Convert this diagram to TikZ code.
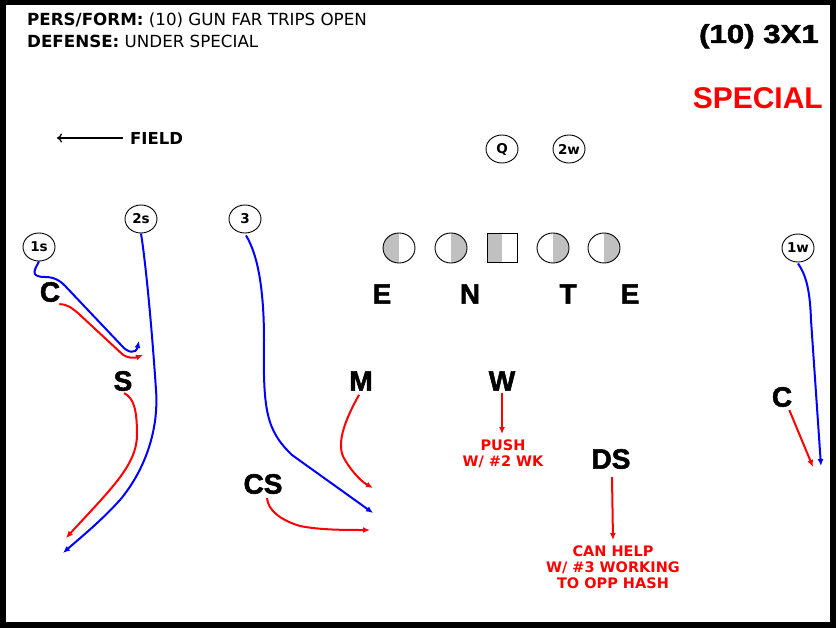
\documentclass[tikz,border=0pt]{standalone}
\usepackage{fontspec}
\setmainfont{DejaVu Sans}
\newfontfamily\arialf{Liberation Sans}
\newfontfamily\heavy{Liberation Sans Bold}[FakeBold=1.8]
\usetikzlibrary{shapes.geometric,arrows.meta}
\definecolor{olgray}{RGB}{192,192,192}
\definecolor{rtblue}{RGB}{0,0,255}
\definecolor{rtred}{RGB}{255,0,0}
\tikzset{
  x=1pt,y=-1pt,
  player/.style={ellipse,draw,line width=0.9pt,minimum width=32pt,minimum height=28pt,inner sep=0pt,font=\fontsize{13.5}{13.5}\selectfont\bfseries},
  olbase/.style={ellipse,draw,line width=0.9pt,minimum width=32pt,minimum height=30pt,inner sep=0pt},
  grayleft/.style={path picture={\fill[olgray] (path picture bounding box.south west) rectangle (path picture bounding box.north);}},
  grayright/.style={path picture={\fill[olgray] (path picture bounding box.south) rectangle (path picture bounding box.north east);}},
  defl/.style={inner sep=0pt,font=\heavy\fontsize{28}{28}\selectfont},
  redtxt/.style={text=rtred,align=center,inner sep=0pt,font=\fontsize{14.5}{16}\selectfont\bfseries},
  broute/.style={draw=rtblue,line width=2pt,-{Latex[length=7pt,width=6pt]}},
  rroute/.style={draw=rtred,line width=2pt,-{Latex[length=7pt,width=6pt]}},
}
\begin{document}
\begin{tikzpicture}
\useasboundingbox (0,0) rectangle (840,628);
\fill[white] (0,0) rectangle (840,628);
\draw[line width=5.5pt] (2.75,2.75) rectangle (833,625);
% titles
\node[anchor=base west,inner sep=0pt,font=\fontsize{16.7}{16.7}\selectfont] (t1) at (27,26) {\textbf{PERS/FORM:} (10) GUN FAR TRIPS OPEN};
\node[anchor=base west,inner sep=0pt,font=\fontsize{16.7}{16.7}\selectfont] (t2) at (27,48) {\textbf{DEFENSE:} UNDER SPECIAL};
\node[anchor=base east,inner sep=0pt,font=\heavy\fontsize{26}{26}\selectfont] (t3) at (819,43) {\scalebox{1.2}[1]{(10) 3X1}};
\node[anchor=base east,inner sep=0pt,text=rtred,font=\arialf\bfseries\fontsize{30}{30}\selectfont] (t4) at (823,109) {SPECIAL};
% field arrow
\node[anchor=base west,inner sep=0pt,font=\fontsize{16.5}{16.5}\selectfont\bfseries] (field) at (130,145) {FIELD};
\coordinate (fieldtip) at (57,138);
\draw[line width=1.3pt,-{To[length=5pt,width=9pt]}] (field.west |- fieldtip) ++(-7,0) -- (fieldtip);
% offense
\node[player] (s1) at (39,247) {1s};
\node[player] (s2) at (141,219) {2s};
\node[player] (r3) at (245,219) {3};
\node[player] (q) at (502,149) {Q};
\node[player] (w2) at (569,149) {2w};
\node[player] (w1) at (798,248) {1w};
\node[olbase,grayleft] (o1) at (399,248) {};
\node[olbase,grayright] (o2) at (451,248) {};
\node[rectangle,draw,line width=0.9pt,minimum width=30pt,minimum height=29pt,inner sep=0pt,grayleft] (oc) at (502,248) {};
\node[olbase,grayright] (o4) at (553,248) {};
\node[olbase,grayright] (o5) at (604,248) {};
% defense
\node[defl] (de1) at (382,294) {E};
\node[defl] (dn) at (470,294) {N};
\node[defl] (dt) at (568,294) {T};
\node[defl] (de2) at (630,294) {E};
\node[defl] (cl) at (50,292) {C};
\node[defl] (ss) at (123,381) {S};
\node[defl] (mm) at (361,381) {M};
\node[defl] (ww) at (502,381) {W};
\node[defl] (cs) at (263,484) {CS};
\node[defl] (ds) at (611,459) {DS};
\node[defl] (cr) at (782,397) {C};
\node[redtxt,anchor=north] (wtxt) at (503,440) {PUSH\\W/ \#2 WK};
\node[redtxt,anchor=north] (dstxt) at (613,546) {CAN HELP\\W/ \#3 WORKING\\TO OPP HASH};
% end points
\coordinate (e1s) at (139,341);
\coordinate (ecl) at (143,355);
\coordinate (e2s) at (63,553);
\coordinate (ess) at (66,538);
\coordinate (e3) at (373,513);
\coordinate (em) at (373,488);
\coordinate (ecs) at (370,530);
\coordinate (e1w) at (821,466);
\coordinate (ecr) at (813,467);
% routes
\draw[broute] (s1.south) .. controls (36,268) and (28,277) .. (45,277) .. controls (55,277) and (61,281) .. (68,289) -- (122,346) .. controls (128,353) and (136,354) .. (e1s);
\draw[rroute] (cl.south east) ++(-1,2) .. controls (66,304) and (71,307) .. (79,314) -- (121,353) .. controls (127,359) and (135,358) .. (ecl);
\draw[broute] (s2.south) .. controls (146,265) and (152,330) .. (156,390) .. controls (159,430) and (145,470) .. (120,500) .. controls (100,522) and (80,538) .. (e2s);
\draw[rroute] (ss.south) ++(1,2) .. controls (134,398) and (137,410) .. (137,435) .. controls (137,465) and (110,490) .. (ess);
\draw[broute] (r3.south) ++(1,2) .. controls (258,255) and (264,290) .. (264,340) .. controls (263,410) and (266,430) .. (292,455) -- (e3);
\draw[rroute] (mm.south) ++(-2,4) .. controls (345,420) and (335,445) .. (345,460) .. controls (352,472) and (362,482) .. (em);
\draw[rroute] (cs.south) ++(4,4) .. controls (268,510) and (280,520) .. (300,526) .. controls (320,530) and (345,530) .. (ecs);
\draw[rroute] (ww.south) ++(0,2) -- (502,434);
\draw[rroute] (ds.south) ++(1,8) -- (613,540);
\draw[broute] (w1.south) ++(0,1) .. controls (806,275) and (810,290) .. (811,320) -- (e1w);
\draw[rroute] (cr.south east) ++(-3,3) -- (ecr);
\end{tikzpicture}
\end{document}
